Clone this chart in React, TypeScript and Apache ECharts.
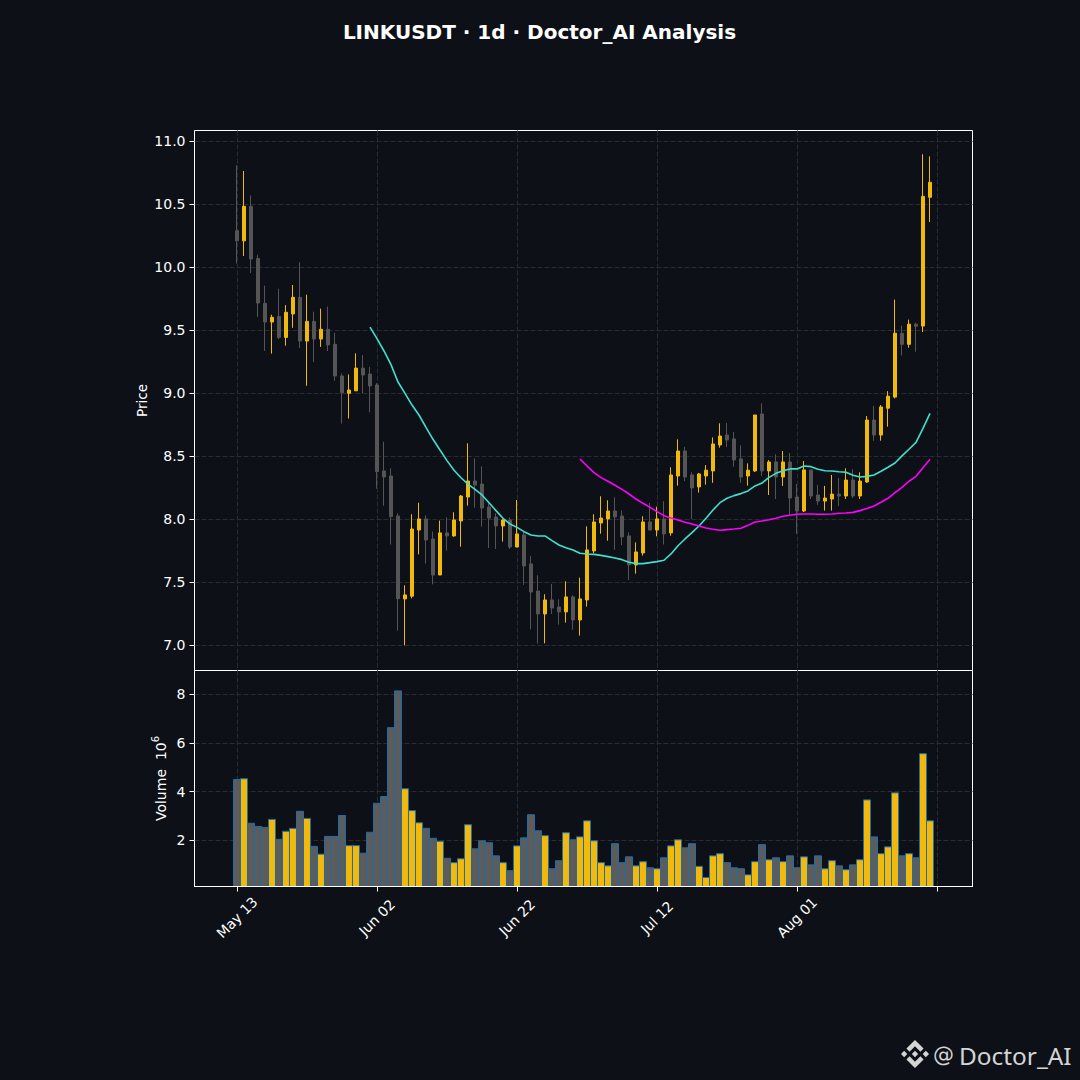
import React, { useEffect, useRef } from "react";
import * as echarts from "echarts";

const TITLE = "LINKUSDT · 1d · Doctor_AI Analysis";
const WATERMARK_AT = "@";
const WATERMARK_NAME = "Doctor_AI";
const dateLabels: Record<number, string> = { 0: "May 13", 20: "Jun 02", 40: "Jun 22", 60: "Jul 12", 80: "Aug 01" };
const xTicks = [0, 20, 40, 60, 80, 100];
const xLabelTicks = [0, 20, 40, 60, 80];
const priceTicks = [7, 7.5, 8, 8.5, 9, 9.5, 10, 10.5, 11];
const volumeTicks = [2, 4, 6, 8];

const opens = [10.29,10.21,10.484,10.07,9.714,9.566,9.61,9.444,9.63,9.762,9.415,9.571,9.431,9.508,9.389,9.138,9.0,9.02,9.2,9.153,9.066,8.384,8.344,8.026,7.368,7.39,7.915,8.003,7.844,7.558,7.892,7.868,7.987,8.177,8.304,8.28,8.098,8.018,7.947,7.995,7.78,7.876,7.646,7.431,7.249,7.36,7.304,7.265,7.384,7.201,7.36,7.749,7.971,8.003,8.066,8.026,7.868,7.638,7.733,7.979,7.915,8.003,7.892,8.344,8.542,8.352,8.257,8.344,8.384,8.59,8.669,8.638,8.479,8.344,8.384,8.836,8.384,8.455,8.336,8.455,8.177,8.066,8.392,8.193,8.145,8.161,8.2,8.185,8.312,8.185,8.296,8.788,8.669,8.882,8.97,9.476,9.389,9.549,9.534,10.556];
const closes = [10.21,10.484,10.066,9.717,9.566,9.603,9.444,9.643,9.762,9.415,9.571,9.431,9.508,9.384,9.138,9.005,9.026,9.2,9.145,9.058,8.378,8.336,8.021,7.37,7.4,7.923,8.003,7.836,7.558,7.892,7.868,7.995,8.185,8.304,8.272,8.09,8.01,7.947,7.995,7.78,7.884,7.63,7.423,7.249,7.36,7.296,7.265,7.384,7.201,7.368,7.757,7.979,8.01,8.066,8.019,7.86,7.638,7.741,7.979,7.915,8.003,7.884,8.352,8.542,8.336,8.249,8.36,8.39,8.598,8.661,8.63,8.471,8.336,8.39,8.828,8.384,8.455,8.336,8.455,8.169,8.066,8.392,8.185,8.145,8.169,8.2,8.185,8.312,8.185,8.304,8.788,8.669,8.892,8.977,9.477,9.389,9.549,9.532,10.563,10.675];
const lows = [10.03,10.09,9.955,9.606,9.336,9.315,9.43,9.378,9.52,9.36,9.06,9.249,9.368,9.336,9.1,8.76,8.8,9.02,9.0,8.85,8.243,8.108,7.8,7.116,7.0,7.373,7.722,7.648,7.484,7.558,7.751,7.862,7.783,8.108,8.092,7.942,7.772,7.765,7.823,7.765,7.78,7.48,7.127,7.013,7.016,7.249,7.164,7.18,7.124,7.077,7.307,7.73,7.886,7.83,7.757,7.796,7.519,7.569,7.712,7.915,7.865,7.8,7.87,8.267,8.304,8.003,8.212,8.275,8.29,8.569,8.574,8.418,8.29,8.267,8.376,8.344,8.193,8.161,8.265,8.034,7.884,8.058,8.161,8.114,8.069,8.069,8.106,8.161,8.169,8.161,8.29,8.622,8.624,8.735,8.96,9.3,9.362,9.33,9.487,10.36];
const highs = [10.81,10.765,10.57,10.1,9.855,9.624,9.83,9.7,9.86,10.04,9.783,9.648,9.672,9.688,9.48,9.159,9.15,9.317,9.304,9.21,9.08,8.616,8.405,8.048,7.476,8.04,8.132,8.032,7.902,7.99,8.016,8.056,8.193,8.603,8.484,8.42,8.127,8.048,8.0,8.016,8.153,7.902,7.71,7.556,7.405,7.487,7.365,7.508,7.397,7.537,7.944,8.04,8.183,8.151,8.175,8.071,7.897,7.817,8.024,8.13,8.1,8.143,8.413,8.635,8.574,8.373,8.368,8.43,8.65,8.762,8.765,8.693,8.587,8.444,8.828,8.92,8.47,8.516,8.542,8.526,8.28,8.463,8.392,8.272,8.265,8.352,8.328,8.405,8.397,8.373,8.82,8.9,8.907,9.017,9.744,9.537,9.585,9.561,10.897,10.881];
const volumes = [4.52,4.55,2.72,2.59,2.55,2.88,2.06,2.39,2.51,3.21,2.92,1.77,1.45,2.18,2.18,3.04,1.8,1.8,1.49,2.35,3.54,3.82,6.65,8.16,4.14,3.24,2.74,2.51,2.1,1.98,1.28,1.1,1.26,2.66,1.67,2.0,1.92,1.38,1.1,0.77,1.79,2.12,3.07,2.41,2.21,0.85,1.18,2.33,2.04,2.16,2.82,2.0,1.1,0.97,1.88,1.1,1.34,0.97,1.14,0.89,0.85,1.3,1.79,2.04,1.71,1.88,0.95,0.49,1.38,1.47,1.1,0.89,0.85,0.6,1.14,1.84,1.22,1.3,1.14,1.38,0.89,1.34,1.01,1.38,0.85,1.18,0.97,0.81,1.01,1.22,3.68,2.16,1.47,1.75,3.97,1.38,1.47,1.3,5.58,2.82];
const ma20Start = 19;
const ma20 = [9.526,9.434,9.336,9.228,9.09,9.0,8.907,8.828,8.73,8.635,8.55,8.466,8.39,8.33,8.28,8.238,8.193,8.132,8.069,8.008,7.963,7.936,7.902,7.876,7.868,7.868,7.831,7.796,7.775,7.757,7.73,7.725,7.722,7.714,7.704,7.693,7.68,7.659,7.648,7.648,7.656,7.664,7.675,7.725,7.79,7.844,7.894,7.947,8.008,8.074,8.132,8.167,8.188,8.204,8.225,8.265,8.288,8.333,8.365,8.386,8.4,8.4,8.423,8.418,8.397,8.386,8.384,8.378,8.373,8.349,8.336,8.341,8.352,8.381,8.413,8.447,8.503,8.556,8.611,8.722,8.841];
const ma50Start = 49;
const ma50 = [8.479,8.423,8.37,8.331,8.302,8.27,8.238,8.201,8.161,8.127,8.095,8.061,8.029,8.011,7.995,7.976,7.963,7.947,7.931,7.921,7.913,7.918,7.923,7.929,7.952,7.979,7.987,7.997,8.008,8.024,8.032,8.04,8.042,8.042,8.04,8.04,8.042,8.048,8.05,8.055,8.069,8.085,8.106,8.135,8.167,8.212,8.254,8.302,8.341,8.41,8.476];

const BG = "#0d1117";
const UP = "#f0b90b";
const DOWN = "#555555";
const VOL_DOWN = "#5c5c5c";
const VOL_EDGE = "#1f6ea8";
const GRID = "#272b32";
const FONT = "DejaVu Sans";
const LOGO =
  "M16.624 13.9202l2.7175 2.7154-7.353 7.353-7.353-7.352 2.7175-2.7164 4.6355 4.6595 4.6356-4.6595zm4.6366-4.6366L24 12l-2.7154 2.7164L18.5682 12l2.6924-2.7164zm-9.272.001l2.7163 2.6914-2.7164 2.7174v-.001L9.2721 12l2.7164-2.7154zm-9.2722-.001L5.4088 12l-2.6914 2.6924L0 12l2.7164-2.7164zM11.9885.0115l7.353 7.329-2.7174 2.7154-4.6356-4.6356-4.6355 4.6595-2.7174-2.7154 7.353-7.353z";

echarts.graphic.registerShape("binanceLogo", echarts.graphic.extendPath(LOGO, {}) as any);

const splitLine = { show: true, lineStyle: { color: GRID, width: 1, type: [5, 2] as number[] } };
const tickLabel = { color: "#ffffff", fontFamily: FONT, fontSize: 14 };
const hiddenAxisLine = { show: false, onZero: false };

export default function App() {
  const ref = useRef<HTMLDivElement>(null);
  useEffect(() => {
    document.body.style.margin = "0";
    document.body.style.background = BG;
    const chart = echarts.init(ref.current!, undefined, { renderer: "svg", width: 1080, height: 1080 });
    const xBase = { type: "value", min: -6.07, max: 105.07, splitLine, axisLine: hiddenAxisLine };
    chart.setOption({
      animation: false,
      backgroundColor: BG,
      title: {
        text: TITLE,
        left: 534.5,
        top: 16,
        textAlign: "center",
        textStyle: { color: "#ffffff", fontFamily: FONT, fontSize: 20, fontWeight: "bold", lineHeight: 22 },
      },
      grid: [
        { left: 194.5, top: 130.5, width: 778, height: 540, show: true, borderColor: "#ffffff", borderWidth: 1, backgroundColor: "transparent" },
        { left: 194.5, top: 670.5, width: 778, height: 216, show: true, borderColor: "#ffffff", borderWidth: 1, backgroundColor: "transparent" },
      ],
      xAxis: [
        {
          ...xBase,
          gridIndex: 0,
          axisTick: { show: false, customValues: xTicks },
          axisLabel: { show: false, customValues: xTicks },
        },
        {
          ...xBase,
          gridIndex: 1,
          axisTick: { show: true, length: 5, customValues: xTicks, lineStyle: { color: "#fff", width: 1 } },
          axisLabel: {
            ...tickLabel,
            show: true,
            rotate: 45,
            align: "center",
            verticalAlign: "middle",
            margin: 31,
            customValues: xLabelTicks,
            formatter: (v: number) => dateLabels[v] ?? "",
          },
        },
      ],
      yAxis: [
        {
          type: "value",
          gridIndex: 0,
          min: 6.8,
          max: 11.086,
          splitLine,
          name: "Price",
          nameLocation: "middle",
          nameGap: 46,
          nameMoveOverlap: false,
          nameTextStyle: { color: "#fff", fontFamily: FONT, fontSize: 13.5 },
          axisLine: hiddenAxisLine,
          axisTick: { show: true, length: 5, customValues: priceTicks, lineStyle: { color: "#fff", width: 1 } },
          axisLabel: { ...tickLabel, margin: 9, customValues: priceTicks, formatter: (v: number) => v.toFixed(1) },
        },
        {
          type: "value",
          gridIndex: 1,
          min: 0.1,
          max: 8.978,
          splitLine,
          name: "{a|Volume  10}{b|6}",
          nameLocation: "middle",
          nameGap: 27,
          nameMoveOverlap: false,
          nameTextStyle: {
            color: "#fff",
            fontFamily: FONT,
            fontSize: 14,
            rich: {
              a: { color: "#fff", fontFamily: FONT, fontSize: 14, lineHeight: 17, verticalAlign: "bottom" },
              b: { color: "#fff", fontFamily: FONT, fontSize: 10, lineHeight: 17, verticalAlign: "top" },
            },
          },
          axisLine: hiddenAxisLine,
          axisTick: { show: true, length: 5, customValues: volumeTicks, lineStyle: { color: "#fff", width: 1 } },
          axisLabel: { ...tickLabel, margin: 9, customValues: volumeTicks, formatter: (v: number) => String(v) },
        },
      ],
      series: [
        {
          type: "candlestick",
          xAxisIndex: 0,
          yAxisIndex: 0,
          barWidth: 3,
          data: opens.map((o, i) => [i, o, closes[i], lows[i], highs[i]]),
          itemStyle: { color: UP, color0: DOWN, borderColor: UP, borderColor0: DOWN, borderWidth: 1 },
        },
        {
          type: "line",
          xAxisIndex: 0,
          yAxisIndex: 0,
          showSymbol: false,
          data: ma20.map((v, i) => [i + ma20Start, v]),
          lineStyle: { color: "#40e0d0", width: 1.6 },
        },
        {
          type: "line",
          xAxisIndex: 0,
          yAxisIndex: 0,
          showSymbol: false,
          data: ma50.map((v, i) => [i + ma50Start, v]),
          lineStyle: { color: "#ff00ff", width: 1.6 },
        },
        {
          type: "bar",
          xAxisIndex: 1,
          yAxisIndex: 1,
          barWidth: 8,
          data: volumes.map((v, i) => ({
            value: [i, v],
            itemStyle: { color: closes[i] >= opens[i] ? UP : VOL_DOWN, borderColor: VOL_EDGE, borderWidth: 1 },
          })),
        },
      ],
      graphic: [
        {
          type: "line",
          z: 100,
          shape: { x1: 194, y1: 886.5, x2: 973, y2: 886.5 },
          style: { stroke: "#ffffff", lineWidth: 1 },
        },
        {
          type: "binanceLogo",
          x: 901,
          y: 1040,
          scaleX: 28 / 24,
          scaleY: 28 / 24,
          style: { fill: "#d4d4d4" },
        },
        {
          type: "text",
          x: 933,
          y: 1055,
          style: { text: WATERMARK_AT, fill: "#d4d4d4", font: `21px "${FONT}"`, textVerticalAlign: "middle" },
        },
        {
          type: "text",
          x: 959,
          y: 1055,
          style: { text: WATERMARK_NAME, fill: "#d4d4d4", font: `24.4px "Noto Sans"`, textVerticalAlign: "middle" },
        },
      ],
    });
    return () => chart.dispose();
  }, []);
  return <div ref={ref} style={{ position: "absolute", left: 0, top: 0, width: 1080, height: 1080 }} />;
}
